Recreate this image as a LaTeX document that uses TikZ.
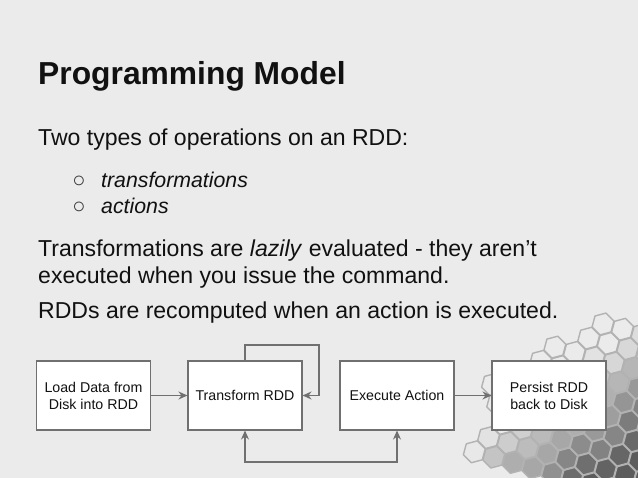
\documentclass[tikz,border=0pt]{standalone}
\usepackage{fontspec}
\setmainfont{Liberation Sans}
\usetikzlibrary{arrows.meta}
\definecolor{slidebg}{HTML}{EBEBEB}
\definecolor{boxline}{HTML}{707070}
\definecolor{inktext}{HTML}{111111}
\tikzset{
  txt/.style={anchor=base west,inner sep=0pt,text=inktext},
  titletxt/.style={txt,font=\fontsize{31.8}{36}\selectfont\bfseries},
  bodytxt/.style={txt,font=\fontsize{23.05}{28}\selectfont},
  subtxt/.style={txt,font=\fontsize{21.3}{26}\selectfont\itshape},
  bullettxt/.style={anchor=base,inner sep=0pt,text=inktext!85,font=\fontsize{22}{26}\selectfont},
  flowbox/.style={draw=boxline,fill=white,line width=1.1pt,minimum width=114pt,minimum height=69pt,inner sep=0pt,align=center,text=inktext,font=\fontsize{14.2}{17}\selectfont},
  flow/.style={draw=boxline,line width=1.1pt,-{Stealth[length=9pt,width=8pt]}},
  hexcell/.style={draw=black!30,line width=1.4pt,line join=round}
}
\begin{document}
\begin{tikzpicture}[x=1pt,y=-1pt]
\useasboundingbox (0,0) rectangle (638,478);
\fill[slidebg] (0,0) rectangle (638,478);
% honeycomb
\begin{scope}
\clip (0,0) rectangle (638,478);
\foreach \i in {-9,...,3}{
  \foreach \j in {-2,...,9}{
    \pgfmathsetmacro{\hx}{603+19.5*\i+5.2*\j}
    \pgfmathsetmacro{\hy}{324+5.3*\i+19.5*\j}
    \pgfmathtruncatemacro{\keep}{(\hy+0.557*\hx>=655)&&((\hx+\hy>=925)||(\hx>=485))&&(\hx>=460)&&((\hx<625)||(\hy>=326))}
    \ifnum\keep=1
      \pgfmathsetmacro{\g}{max(0.36,min(0.92,0.92-(0.6*\hx+0.8*\hy-640)*0.0055+0.03*sin(97*\i*\i+61*\j)))}
      \definecolor{hexfill}{gray}{\g}
      \path[hexcell,fill=hexfill,shift={(\hx,\hy)}]
        (45:11.3) -- (105:11.3) -- (165:11.3) -- (225:11.3) -- (285:11.3) -- (345:11.3) -- cycle;
    \fi
  }
}
\end{scope}
% text
\node[titletxt] (title) at (38,85) {Programming Model};
\node[bodytxt] (intro) at (38,146) {Two types of operations on an RDD:};
\node[bullettxt] (b1) at (79,188) {○};
\node[subtxt] (s1) at (101,188) {transformations};
\node[bullettxt] (b2) at (79,214) {○};
\node[subtxt] (s2) at (101,214) {actions};
\node[bodytxt] (l1) at (38,257) {Transformations are \textit{lazily} evaluated - they aren’t};
\node[bodytxt] (l2) at (38,284) {executed when you issue the command.};
\node[bodytxt] (l3) at (38,319) {RDDs are recomputed when an action is executed.};
% flow
\node[flowbox] (load) at (93.5,395.5) {Load Data from\\Disk into RDD};
\node[flowbox] (transform) at (245,395.5) {Transform RDD};
\node[flowbox] (execute) at (397,395.5) {Execute Action};
\node[flowbox] (persist) at (549,395.5) {Persist RDD\\back to Disk};
\coordinate (loopA) at (245,345);
\coordinate (loopB) at (319,345);
\coordinate (loopC) at (319,395.5);
\coordinate (backA) at (397,462);
\coordinate (backB) at (245,462);
\draw[flow] (load) -- (transform);
\draw[flow] (execute) -- (persist);
\draw[flow] (transform.north) -- (loopA) -- (loopB) -- (loopC) -- (transform.east);
\draw[flow,{Stealth[length=9pt,width=8pt]}-{Stealth[length=9pt,width=8pt]}] (execute.south) -- (backA) -- (backB) -- (transform.south);
\end{tikzpicture}
\end{document}
